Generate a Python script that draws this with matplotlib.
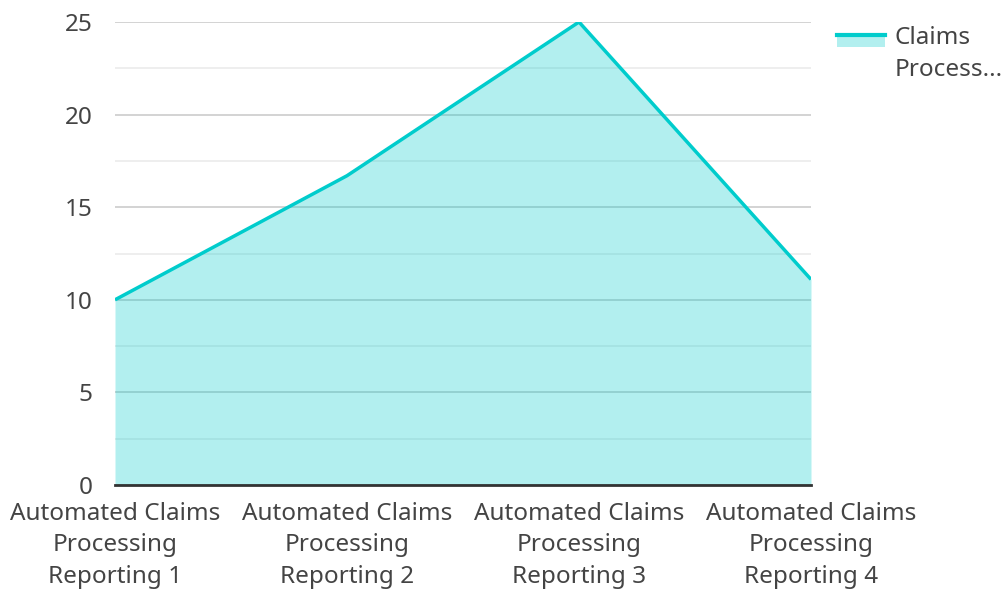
import matplotlib.pyplot as plt
from matplotlib.patches import Rectangle
from matplotlib.lines import Line2D
import numpy as np

plt.rcParams['font.family'] = ['Noto Sans', 'DejaVu Sans']

categories = ['Automated Claims\nProcessing\nReporting 1',
              'Automated Claims\nProcessing\nReporting 2',
              'Automated Claims\nProcessing\nReporting 3',
              'Automated Claims\nProcessing\nReporting 4']
values = [10, 16.7, 25, 11.1]
series_name = 'Claims\nProcess...'

line_color = '#00CCCC'
text_color = '#444444'

fig = plt.figure(figsize=(10.03, 5.92), dpi=100)
ax = fig.add_axes([115 / 1003, 1 - 485 / 592, (811 - 115) / 1003, (485 - 22) / 592])

x = np.arange(len(categories))
ax.fill_between(x, values, 0, color=line_color, alpha=0.3, linewidth=0, zorder=2)
ax.plot(x, values, color=line_color, linewidth=2.5, zorder=3, solid_capstyle='butt')

ax.set_xlim(0, len(categories) - 1)
ax.set_ylim(0, 25)
ax.set_yticks(np.arange(0, 26, 5))
ax.set_yticks(np.arange(2.5, 25, 5), minor=True)
ax.grid(axis='y', which='major', color='#cccccc', linewidth=1.2, zorder=1)
ax.grid(axis='y', which='minor', color='#ebebeb', linewidth=1.2, zorder=1)
ax.set_axisbelow(True)

ax.set_xticks(x)
ax.set_xticklabels(categories, linespacing=1.43)
ax.tick_params(axis='both', which='both', length=0, labelsize=17.5, colors=text_color)
ax.tick_params(axis='y', pad=16)
ax.tick_params(axis='x', pad=12)
for s in ['top', 'right', 'left']:
    ax.spines[s].set_visible(False)
ax.spines['bottom'].set_color('#333333')
ax.spines['bottom'].set_linewidth(2)
ax.spines['bottom'].set_zorder(4)

# legend
W, H = 1003, 592
fig.add_artist(Rectangle((837 / W, 1 - 47 / H), 48 / W, 11 / H,
                         transform=fig.transFigure, color=line_color, alpha=0.3, lw=0))
fig.add_artist(Line2D([837 / W, 885 / W], [1 - 35 / H, 1 - 35 / H],
                      transform=fig.transFigure, color=line_color, linewidth=3))
fig.text(895 / W, 1 - 26 / H, series_name, fontsize=17.5, color=text_color,
         va='top', ha='left', linespacing=1.43, transform=fig.transFigure)

fig.savefig('out.png', dpi=100)
